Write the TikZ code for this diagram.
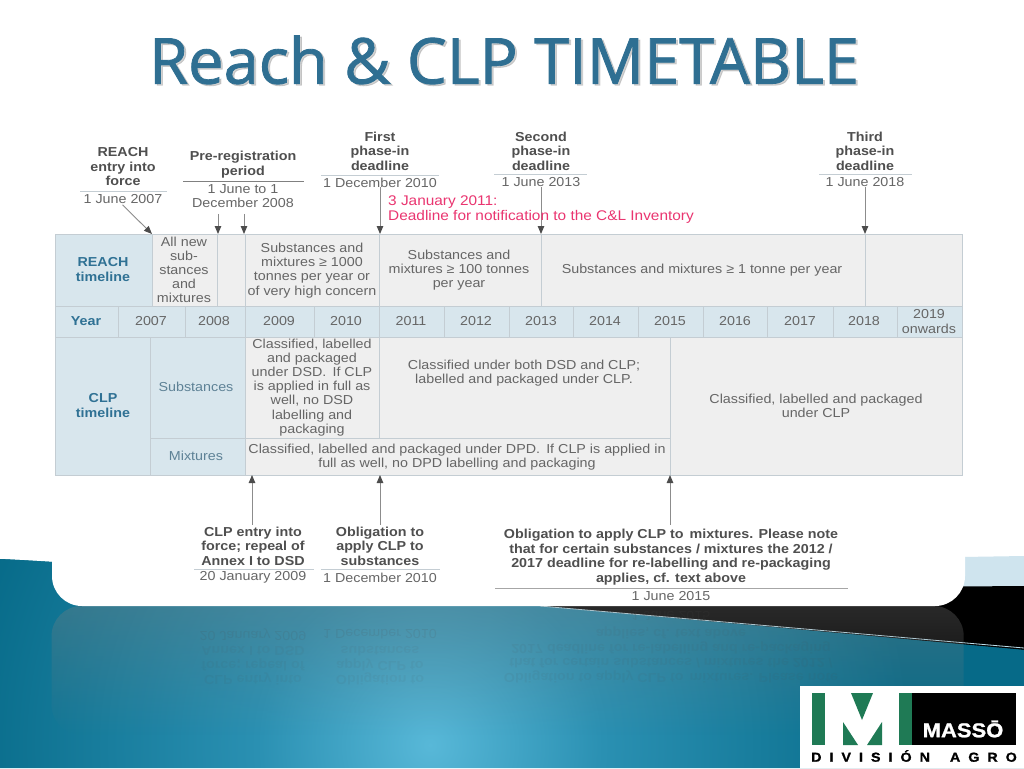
\documentclass[tikz,border=0pt]{standalone}
\usepackage{fontspec}
\setmainfont[FakeStretch=1.1]{Liberation Sans}
\newfontfamily\titlefont[FakeBold=1.3]{Open Sans}
\newfontfamily\logofont[FakeBold=1.2,FakeStretch=1.1]{Liberation Sans}
\usetikzlibrary{arrows.meta,fadings,calc}
\definecolor{hdr}{HTML}{D8E6ED}
\definecolor{cellg}{HTML}{EFEFEF}
\definecolor{rule}{HTML}{C4CDD3}
\definecolor{txt}{HTML}{666666}
\definecolor{txtb}{HTML}{4F4F4F}
\definecolor{teal}{HTML}{2F7194}
\definecolor{softteal}{HTML}{5E8296}
\definecolor{pink}{HTML}{EA3570}
\definecolor{titleblue}{HTML}{2F6F92}
\definecolor{logogreen}{HTML}{1F7A55}
\definecolor{bandblue}{HTML}{CFE4EE}
\definecolor{deepteal}{HTML}{066A88}
\definecolor{midteal}{HTML}{2A90B2}
\definecolor{lightteal}{HTML}{58B8D8}
\definecolor{edgeline}{HTML}{BFE0EC}
\pgfdeclareradialshading{glow}{\pgfpoint{0bp}{0bp}}{color(0bp)=(lightteal); color(4.5bp)=(midteal); color(12.5bp)=(deepteal); color(100bp)=(deepteal)}
\tikzset{
  x=1pt,y=-1pt,
  base/.style={inner sep=0pt,align=center,font=\fontsize{13}{14.1}\selectfont,text=txt},
  plain/.style={base},
  head/.style={base,font=\fontsize{13}{14.5}\selectfont\bfseries,text=txtb},
  rowhead/.style={base,font=\fontsize{13}{14.8}\selectfont\bfseries,text=teal},
  hcell/.style={draw=rule,fill=hdr,line width=1pt},
  gcell/.style={draw=rule,fill=cellg,line width=1pt},
  bar/.style={draw=rule,line width=1pt},
  lead/.style={draw=black!45,line width=.9pt,-{Triangle[length=8pt,width=6.5pt,color=black!70]}},
  mirror/.style={base,text=black!70},
}
\begin{document}
\begin{tikzpicture}
\useasboundingbox (0,0) rectangle (1024,768);
\fill[white] (0,0) rectangle (1024,768);
% background
\fill[bandblue] (900,558) -- (1024,556) -- (1024,590) -- (900,590) -- cycle;
\fill[black] (500,590) -- (1024,586) -- (1024,652) -- (500,606) -- cycle;
\begin{scope}
\clip (0,559) .. controls (150,566) and (350,590) .. (540,606) -- (1024,650) -- (1024,768) -- (0,768) -- cycle;
\fill[deepteal] (0,540) rectangle (1024,768);
\shade[shading=glow] (430,745) circle (960);
\end{scope}
\draw[edgeline,line width=.8pt] (540,606) -- (1024,648);
% reflection
\fill[gray,opacity=.32,path fading=south,rounded corners=30pt] (52,606) rectangle (965,735);
% white panel
\fill[white,rounded corners=30pt] (52,120) rectangle (965,606);
% title
\node[inner sep=0pt,text=black!35,font=\titlefont\fontsize{63.3}{64}\selectfont,opacity=.5] at (506,61.5) {Reach \& CLP TIMETABLE};
\node (title) [inner sep=0pt,text=titleblue,font=\titlefont\fontsize{63.3}{64}\selectfont] at (504,59.9) {Reach \& CLP TIMETABLE};
% table : REACH row
\path[hcell] (55,234) rectangle (152,306);
\path[gcell] (152,234) rectangle (217,306);
\path[gcell] (217,234) rectangle (245,306);
\path[gcell] (245,234) rectangle (379,306);
\path[gcell] (379,234) rectangle (541,306);
\path[gcell] (541,234) rectangle (865,306);
\path[gcell] (865,234) rectangle (962,306);
% Year row
\foreach \a/\b in {55/118,118/185,185/245,245/314,314/379,379/444,444/509,509/573,573/638,638/703,703/767,767/833,833/897,897/962}
  \path[hcell] (\a,306) rectangle (\b,337);
% CLP rows
\path[hcell] (55,337) rectangle (150,475);
\path[hcell] (150,337) rectangle (245,438);
\path[hcell] (150,438) rectangle (245,475);
\path[gcell] (245,337) rectangle (379,438);
\path[gcell] (379,337) rectangle (670,438);
\path[gcell] (245,438) rectangle (670,475);
\path[gcell] (670,337) rectangle (962,475);
% coordinates on the table
\coordinate (t1) at (152,234);
\coordinate (t2) at (218,234);
\coordinate (t3) at (244,234);
\coordinate (t4) at (380,234);
\coordinate (t5) at (541,234);
\coordinate (t6) at (865,234);
\coordinate (b1) at (252,475);
\coordinate (b2) at (380,475);
\coordinate (b3) at (670,475);
% table text
\node (n1) [rowhead] at (103,269.5) {REACH\\timeline};
\node (n2) [plain] at (184,270) {All new\\sub-\\stances\\and\\mixtures};
\node (n3) [plain] at (312,270.5) {Substances and\\mixtures ≥ 1000\\tonnes per year or\\of very high concern};
\node (n4) [plain] at (459,270) {Substances and\\mixtures ≥ 100 tonnes\\per year};
\node (n5) [plain] at (702,270) {Substances and mixtures ≥ 1 tonne per year};
\node (y0) [head,text=teal] at (86,321) {Year};
\foreach \n/\x/\t in {y1/151/2007,y2/214/2008,y3/279/2009,y4/346/2010,y5/411/2011,y6/476/2012,y7/541/2013,y8/605/2014,y9/670/2015,y10/735/2016,y11/800/2017,y12/864/2018}
  \node (\n) [plain] at (\x,321.5) {\t};
\node (y13) [plain] at (929,321.5) {2019\\onwards};
\node (c1) [rowhead] at (103,405.5) {CLP\\timeline};
\node (c2) [plain,text=softteal] at (196,387) {Substances};
\node (c3) [plain,text=softteal] at (196,456) {Mixtures};
\node (c4) [plain] at (312,387.5) {Classified, labelled\\and packaged\\under DSD.\, If CLP\\is applied in full as\\well, no DSD\\labelling and\\packaging};
\node (c5) [plain] at (524,373) {Classified under both DSD and CLP;\\labelled and packaged under CLP.};
\node (c6) [plain] at (816,406) {Classified, labelled and packaged\\under CLP};
\node (c7) [plain] at (457,457) {Classified, labelled and packaged under DPD.\, If CLP is applied in\\full as well, no DPD labelling and packaging};
% top labels
\node (h1) [head] at (123,167) {REACH\\entry into\\force};
\path[bar] (80,191) -- (167,191);
\node (d1) [plain] at (123,199) {1 June 2007};
\node (h2) [head] at (243,164.5) {Pre-registration\\period};
\path[bar,draw=black!50] (183,181.5) -- (304,181.5);
\node (d2) [plain] at (243,196) {1 June to 1\\December 2008};
\node (h3) [head] at (380,151) {First\\phase-in\\deadline};
\path[bar] (321,175) -- (439,175);
\node (d3) [plain] at (380,182.5) {1 December 2010};
\node (h4) [head] at (541,151) {Second\\phase-in\\deadline};
\path[bar] (494,174) -- (587,174);
\node (d4) [plain] at (541,182.5) {1 June 2013};
\node (h5) [head] at (865,151) {Third\\phase-in\\deadline};
\path[bar] (819,174) -- (912,174);
\node (d5) [plain] at (865,182) {1 June 2018};
% bottom labels
\node (l1) [head] at (253,546) {CLP entry into\\force; repeal of\\Annex I to DSD};
\path[bar] (194,569.5) -- (314,569.5);
\node (e1) [plain] at (253,577.5) {20 January 2009};
\node (l2) [head] at (380,546) {Obligation to\\apply CLP to\\substances};
\path[bar] (321,569.5) -- (440,569.5);
\node (e2) [plain] at (380,577.5) {1 December 2010};
\node (l3) [head] at (671,557) {Obligation to apply CLP to\, mixtures. Please note\\that for certain substances / mixtures the 2012 /\\2017 deadline for re-labelling and re-packaging\\applies, cf. text above};
\path[bar,draw=black!35] (495,588) -- (848,588);
\node (e3) [plain] at (671,596.5) {1 June 2015};
% connectors
\draw[lead] (d1.south) ++(-.5,1) -- (t1);
\draw[lead] (d2.south -| t2) ++(0,6) -- (t2);
\draw[lead] (d2.south -| t3) ++(0,6) -- (t3);
\draw[lead] (d3.south -| t4) -- (t4);
\draw[lead] (d4.south -| t5) -- (t5);
\draw[lead] (d5.south -| t6) -- (t6);
\draw[lead,shorten <=2pt] (l1.north -| b1) -- (b1);
\draw[lead,shorten <=2pt] (l2.north -| b2) -- (b2);
\draw[lead,shorten <=4pt] (l3.north -| b3) -- (b3);
% red note
\node (note) [base,align=left,anchor=west,text=pink,font=\fontsize{14}{15}\selectfont] at (388,210) {3 January 2011:\\Deadline for notification to the C\&L Inventory};
% reflected texts
\begin{scope}[shift={(0,1212)},yscale=-1,transform shape]
\node[mirror,opacity=.13] at (253,577.5) {20 January 2009};
\node[mirror,opacity=.13] at (380,577.5) {1 December 2010};
\node[mirror,opacity=.13] at (671,596.5) {1 June 2015};
\node[mirror,font=\fontsize{13}{14.5}\selectfont\bfseries,opacity=.07] at (253,546) {CLP entry into\\force; repeal of\\Annex I to DSD};
\node[mirror,font=\fontsize{13}{14.5}\selectfont\bfseries,opacity=.07] at (380,546) {Obligation to\\apply CLP to\\substances};
\node[mirror,font=\fontsize{13}{14.5}\selectfont\bfseries,opacity=.08] at (671,557) {Obligation to apply CLP to\, mixtures. Please note\\that for certain substances / mixtures the 2012 /\\2017 deadline for re-labelling and re-packaging\\applies, cf. text above};
\end{scope}
% logo
\fill[white] (800,686) rectangle (1024,768);
\fill[logogreen] (812,693) rectangle (825,745);
\fill[logogreen] (899,693) rectangle (912,745);
\fill[logogreen] (851,693) -- (873,693) -- (862,720) -- cycle;
\fill[logogreen] (843,722) -- (858,745) -- (843,745) -- cycle;
\fill[logogreen] (882,722) -- (882,745) -- (867,745) -- cycle;
\fill[black] (912,693) rectangle (1016,745);
\node (m) [inner sep=0pt,text=white,font=\logofont\fontsize{20}{20}\selectfont\bfseries] at (963,729) {MASSŌ};
\node (da) [inner sep=0pt,font=\logofont\fontsize{13}{13}\selectfont\bfseries,text=black] at (914,756) {D\hspace{8pt}I\hspace{8pt}V\hspace{8pt}I\hspace{8pt}S\hspace{8pt}I\hspace{8pt}Ó\hspace{8pt}N\hspace{20pt}A\hspace{8pt}G\hspace{8pt}R\hspace{8pt}O};
\end{tikzpicture}
\end{document}
